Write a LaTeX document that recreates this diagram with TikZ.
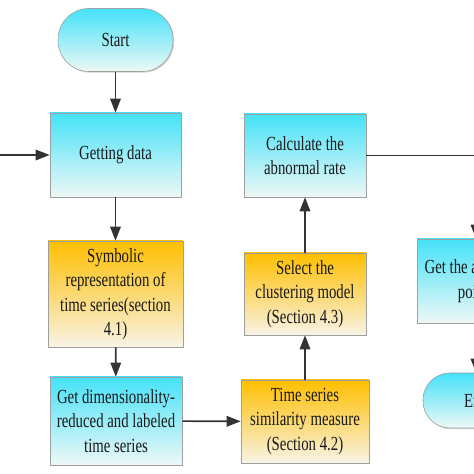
\documentclass[tikz,border=0pt]{standalone}
\usepackage{fontspec}
\setmainfont{Liberation Serif}[FakeStretch=0.74]
\usetikzlibrary{arrows.meta}
\usetikzlibrary{shadows}

\definecolor{cyanT}{HTML}{45E2F8}
\definecolor{cyanB}{HTML}{EEF8F6}
\definecolor{orangeT}{HTML}{FFBF00}
\definecolor{orangeB}{HTML}{F8F3E6}

\tikzset{
  box/.style={draw=gray!75, line width=0.6pt, top color=cyanT, bottom color=cyanB,
    align=center, inner sep=0pt, text=black!90,
    font=\fontsize{20}{24.5}\selectfont,
    drop shadow={shadow xshift=1.2pt, shadow yshift=-1.2pt, opacity=0.35, fill=gray}},
  obox/.style={box, top color=orangeT, bottom color=orangeB},
  arr/.style={-{Triangle[length=14pt,width=10.5pt]}, line width=1.6pt, draw=black!80}
}

\begin{document}
\begin{tikzpicture}[x=1pt, y=1pt]
  \useasboundingbox (0,0) rectangle (474,474);
  \clip (0,0) rectangle (474,474);

  \node[box, minimum width=115pt, minimum height=63pt, rounded corners=31pt] (start) at (115.5,434) {Start};
  \node[box, minimum width=131pt, minimum height=84pt] (getdata) at (115.5,319) {Getting data};
  \node[obox, minimum width=135pt, minimum height=106pt] (symb) at (115.5,180) {Symbolic\\representation of\\time series(section\\4.1)};
  \node[box, minimum width=132pt, minimum height=88pt] (reduced) at (116,53) {Get dimensionality-\\reduced and labeled\\time series};
  \node[obox, minimum width=128pt, minimum height=83pt] (simil) at (305,52.5) {Time series\\similarity measure\\(Section 4.2)};
  \node[obox, minimum width=122pt, minimum height=82pt] (select) at (305,180) {Select the\\clustering model\\(Section 4.3)};
  \node[box, minimum width=122pt, minimum height=83pt] (calc) at (305,318.5) {Calculate the\\abnormal rate};
  \node[box, minimum width=118pt, minimum height=84pt] (abn) at (476,193) {Get the abnormal\\points};
  \node[box, minimum width=106pt, minimum height=55pt, rounded corners=27pt] (end) at (476,73.5) {End};

  \coordinate (in) at (0,319);

  \draw[arr] (start) -- (getdata);
  \draw[arr] (in) -- (getdata);
  \draw[arr] (getdata) -- (symb);
  \draw[arr] (symb) -- (reduced);
  \draw[arr] (reduced) -- (simil);
  \draw[arr] (simil) -- (select);
  \draw[arr] (select) -- (calc);
  \draw[arr] (calc.east) -| (abn.north);
  \draw[arr] (abn) -- (end);

\end{tikzpicture}
\end{document}
